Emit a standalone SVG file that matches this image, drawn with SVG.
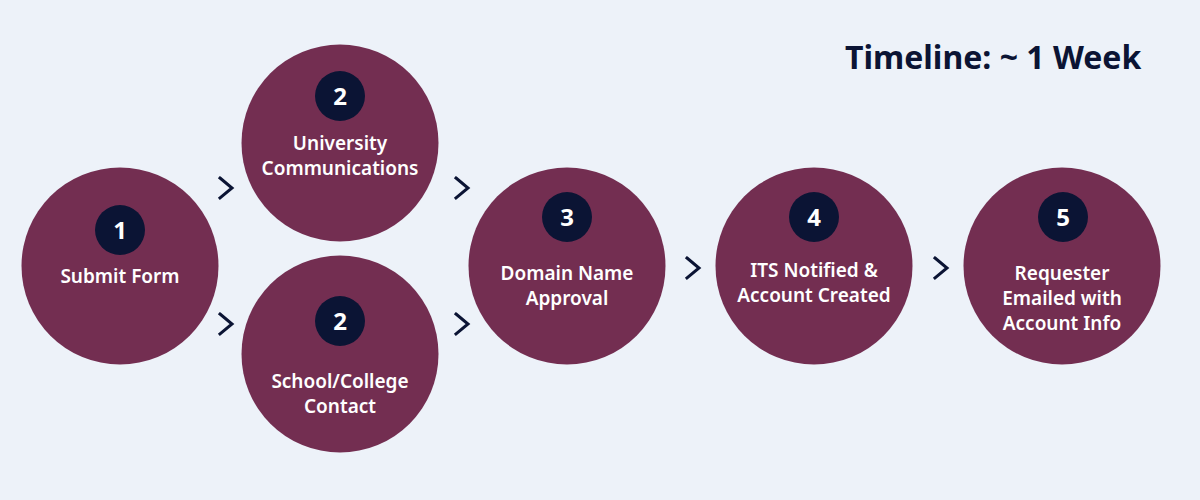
<svg xmlns="http://www.w3.org/2000/svg" width="1200" height="500" viewBox="0 0 1200 500">
<style>
.step{fill:#732e51}
.badge{fill:#0b1434}
.num{fill:#ffffff;font-family:"Noto Sans","Open Sans",sans-serif;font-weight:700;font-size:24px;text-anchor:middle}
.lbl{fill:#ffffff;font-family:"Noto Sans","Open Sans",sans-serif;font-weight:600;font-size:19px;text-anchor:middle}
.chev{fill:none;stroke:#0b1434;stroke-width:3;stroke-linecap:square;stroke-linejoin:miter}
.title{fill:#0b1434;font-family:"Noto Sans","Open Sans",sans-serif;font-weight:700;font-size:32px}
</style>
<rect width="1200" height="500" fill="#edf2f9"/>
<text class="title" x="845" y="69">Timeline: ~ 1 Week</text>
<g id="connectors">
<polyline class="chev" points="220,178 232,188 220,198"/>
<polyline class="chev" points="220,314 232,324 220,334"/>
<polyline class="chev" points="456,178 468,188 456,198"/>
<polyline class="chev" points="456,314 468,324 456,334"/>
<polyline class="chev" points="687,258 699,268 687,278"/>
<polyline class="chev" points="935,258 947,268 935,278"/>
</g>
<g id="step1">
<circle class="step" cx="120" cy="266" r="98.5"/>
<circle class="badge" cx="120" cy="230" r="25"/>
<text class="num" x="120" y="238.5">1</text>
<text class="lbl" x="120" y="282.5">Submit Form</text>
</g>
<g id="step2a">
<circle class="step" cx="340" cy="143" r="98.5"/>
<circle class="badge" cx="340" cy="96" r="25"/>
<text class="num" x="340" y="104.5">2</text>
<text class="lbl" x="340" y="149.5">University</text>
<text class="lbl" x="340" y="174.5">Communications</text>
</g>
<g id="step2b">
<circle class="step" cx="340" cy="354" r="98.5"/>
<circle class="badge" cx="340" cy="321" r="25"/>
<text class="num" x="340" y="329.5">2</text>
<text class="lbl" x="340" y="387.5">School/College</text>
<text class="lbl" x="340" y="412.5">Contact</text>
</g>
<g id="step3">
<circle class="step" cx="567" cy="266" r="98.5"/>
<circle class="badge" cx="567" cy="217" r="25"/>
<text class="num" x="567" y="225.5">3</text>
<text class="lbl" x="567" y="279.5">Domain Name</text>
<text class="lbl" x="567" y="304.5">Approval</text>
</g>
<g id="step4">
<circle class="step" cx="814" cy="266" r="98.5"/>
<circle class="badge" cx="814" cy="217" r="25"/>
<text class="num" x="814" y="225.5">4</text>
<text class="lbl" x="814" y="276.5">ITS Notified &amp;</text>
<text class="lbl" x="814" y="301.5">Account Created</text>
</g>
<g id="step5">
<circle class="step" cx="1062" cy="266" r="98.5"/>
<circle class="badge" cx="1063" cy="217" r="25"/>
<text class="num" x="1063" y="225.5">5</text>
<text class="lbl" x="1062" y="279.5">Requester</text>
<text class="lbl" x="1062" y="304.5">Emailed with</text>
<text class="lbl" x="1062" y="329.5">Account Info</text>
</g>
</svg>
